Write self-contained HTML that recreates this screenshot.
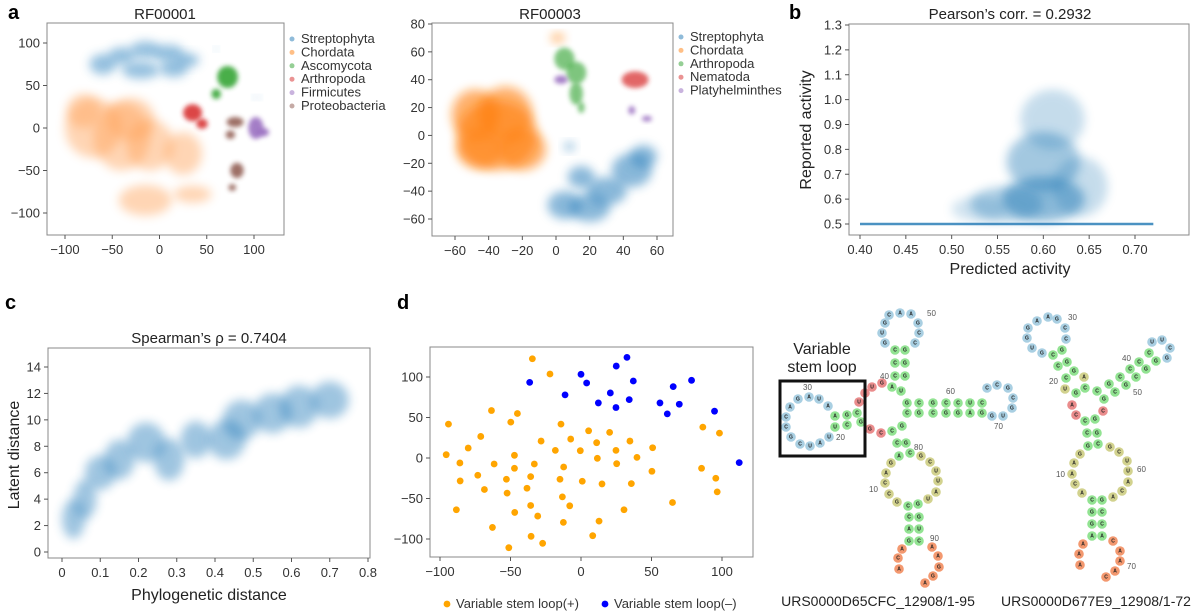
<!DOCTYPE html>
<html><head><meta charset="utf-8">
<style>
html,body{margin:0;padding:0;background:#fff;}
svg{display:block;font-family:"Liberation Sans",sans-serif;}
.tk{font-size:13px;fill:#333;}
.lab{font-size:16px;fill:#222;}
.ttl{font-size:15px;fill:#222;}
.leg{font-size:13px;fill:#333;}
.nt{font-size:5px;font-weight:bold;fill:#222;text-anchor:middle;dominant-baseline:central;}
.num{font-size:8px;fill:#555;}
</style></head>
<body>
<svg id="fig" width="1200" height="611" viewBox="0 0 1200 611">
<defs>
<filter id="bl" x="-60%" y="-60%" width="220%" height="220%"><feGaussianBlur stdDeviation="5"/></filter>
<filter id="bls" x="-60%" y="-60%" width="220%" height="220%"><feGaussianBlur stdDeviation="2.5"/></filter>
</defs>
<text x="8" y="19" font-size="20" font-weight="bold">a</text>
<text x="789" y="19" font-size="20" font-weight="bold">b</text>
<text x="5" y="309" font-size="20" font-weight="bold">c</text>
<text x="397" y="309" font-size="20" font-weight="bold">d</text>
</svg>
<script>
// ---- Panel a1 (RF00001) cluster data: [x, y, spreadX, spreadY]
const a1Categories = ["Streptophyta","Chordata","Ascomycota","Arthropoda","Firmicutes","Proteobacteria"];
const a1Colors = ["#1f77b4","#ff7f0e","#2ca02c","#d62728","#9467bd","#8c564b"];
const a1Strepto = [[-60,75,14,12],[-40,85,14,10],[-15,92,16,10],[10,88,16,10],[30,80,12,8],[-20,68,20,10],[15,70,15,10],[60,93,2,2],[103,36,3,2]];
const a1Chordata = [[-70,0,30,35],[-40,-10,30,40],[-10,-20,25,30],[25,-30,20,25],[-30,10,25,25],[-15,-85,28,18],[35,-78,20,10],[-80,20,18,20]];
const a1Asco = [[72,60,11,13],[60,40,5,6]];
const a1Arthro = [[35,18,10,10],[45,5,6,6]];
const a1Firm = [[102,0,8,13],[110,-5,6,5]];
const a1Proteo = [[80,7,9,6],[75,-8,5,5],[82,-50,7,9],[77,-70,4,4]];
const a1XTicks = [-100,-50,0,50,100];
const a1YTicks = [100,50,0,-50,-100];
// ---- Panel a2 (RF00003)
const a2Categories = ["Streptophyta","Chordata","Arthropoda","Nematoda","Platyhelminthes"];
const a2Colors = ["#1f77b4","#ff7f0e","#2ca02c","#d62728","#9467bd"];
const a2Strepto = [[5,-50,10,10],[20,-52,12,10],[30,-40,12,10],[45,-25,12,12],[52,-15,8,8],[15,-30,8,8],[8,-8,3,3]];
const a2Chordata = [[-48,15,14,18],[-30,15,16,20],[-20,-10,14,15],[-45,-10,14,14],[-35,0,24,25],[1,70,4,3]];
const a2Arthro = [[5,55,6,8],[12,45,6,8],[12,30,4,8],[15,20,2,4]];
const a2Nema = [[47,40,8,6]];
const a2Platy = [[3,40,4,3],[45,18,2,3],[54,12,3,2]];
const a2XTicks = [-60,-40,-20,0,20,40,60];
const a2YTicks = [80,60,40,20,0,-20,-40,-60];
// ---- Panel b density clusters [x, y, spreadX, spreadY, weight]
const bClusters = [[0.60,0.60,0.045,0.09,1],[0.60,0.75,0.04,0.12,0.8],[0.61,0.92,0.035,0.12,0.5],[0.56,0.58,0.04,0.07,0.7],[0.53,0.56,0.03,0.05,0.4],[0.64,0.65,0.03,0.12,0.5]];
const bFloor = [0.40,0.72,0.5];
const bXTicks = [0.40,0.45,0.50,0.55,0.60,0.65,0.70];
const bYTicks = [0.5,0.6,0.7,0.8,0.9,1.0,1.1,1.2,1.3];
// ---- Panel c density clusters [x, y, spreadX, spreadY]
const cClusters = [[0.03,2.5,0.03,1.5],[0.06,4,0.03,1.5],[0.1,6,0.04,1.3],[0.15,7,0.04,1.5],[0.22,8.3,0.05,1.5],[0.28,7,0.04,1.6],[0.35,8.5,0.04,1.4],[0.43,8.5,0.05,1.5],[0.47,10,0.05,1.5],[0.55,10.5,0.05,1.5],[0.62,11,0.05,1.6],[0.70,11.5,0.05,1.4]];
const cXTicks = [0,0.1,0.2,0.3,0.4,0.5,0.6,0.7,0.8];
const cYTicks = [0,2,4,6,8,10,12,14];
// ---- Panel d scatter
const dPlusX = [-34.5,-22.0,-94.0,-63.5,-45.1,-49.8,-71.1,-80.0,-95.6,-85.9,-85.7,-73.2,-88.4,-68.5,-61.6,-47.2,-47.2,-52.9,-52.4,-47.0,-62.8,-51.2,-35.7,-33.1,-38.3,-35.7,-30.7,-35.4,-27.2,-28.3,-18.2,-14.2,-7.3,-12.3,-14.9,-13.2,-8.0,-12.5,-0.5,0.9,5.4,11.1,11.6,14.9,12.8,8.3,20.3,24.8,25.3,34.7,39.7,35.7,30.5,50.8,50.3,64.9,86.4,98.2,85.5,95.6,96.6];
const dPlusY = [122.5,103.7,41.8,58.6,54.9,44.3,26.6,12.3,4.1,-6.1,-28.3,-21.3,-63.9,-38.9,-7.4,3.3,-12.7,-26.2,-43.4,-67.2,-85.7,-110.7,-23.0,-7.4,-37.3,-58.6,-71.7,-96.7,-105.3,20.9,9.4,41.8,23.4,-11.1,-26.2,-48.0,-59.0,-79.5,9.0,-28.7,33.6,18.9,-0.4,-32.0,-77.9,-95.9,31.6,9.4,-7.0,20.9,0.8,-31.6,-63.9,12.7,-16.4,-54.9,38.1,30.7,-12.7,-25.0,-41.8];
const dMinusX = [-36.4,-11.3,0,4.0,12.3,20.8,24.8,25.0,32.6,34.2,37.1,56.0,61.2,65.4,69.7,78.4,94.7,112.2];
const dMinusY = [93.4,77.9,103.3,92.6,68.0,80.3,62.3,113.5,124.2,72.1,95.1,68.0,54.5,88.1,66.4,95.9,57.8,-5.7];
const dXTicks = [-100,-50,0,50,100];
const dYTicks = [100,50,0,-50,-100];

const NS="http://www.w3.org/2000/svg";
const svg=document.getElementById('fig');
function el(tag,attrs,parent){const e=document.createElementNS(NS,tag);for(const k in attrs)e.setAttribute(k,attrs[k]);(parent||svg).appendChild(e);return e;}
function txt(str,attrs,parent){const e=el('text',attrs,parent);e.textContent=str;return e;}
function lin(d0,d1,r0,r1){return v=>r0+(v-d0)/(d1-d0)*(r1-r0);}

function axesBox(name,L,T,R,B){
  const r=el('rect',{x:L,y:T,width:R-L,height:B-T,fill:'none',stroke:'#888','stroke-width':1});
  
  
}
function xTicks(name,ticks,fx,B,fmt){
  ticks.forEach(t=>{const x=fx(t);
    const l=el('line',{x1:x,x2:x,y1:B,y2:B+4,stroke:'#555'});
    
    
    const s=txt(fmt?fmt(t):String(t).replace('-','−'),{x:x,y:B+19,'text-anchor':'middle',class:'tk'});
    
    });
}
function yTicks(name,ticks,fy,L,fmt){
  ticks.forEach(t=>{const y=fy(t);
    const l=el('line',{x1:L-4,x2:L,y1:y,y2:y,stroke:'#555'});
    
    
    const s=txt(fmt?fmt(t):String(t).replace('-','−'),{x:L-7,y:y+4.5,'text-anchor':'end',class:'tk'});
    
    });
}
function blobs(name,list,color,fx,fy,op,g,filt){
  list.forEach(c=>{
    const rx=Math.abs(fx(c[0]+c[2])-fx(c[0])), ry=Math.abs(fy(c[1]+c[3])-fy(c[1]));
    const e=el('ellipse',{cx:fx(c[0]),cy:fy(c[1]),rx:rx,ry:ry,fill:color,opacity:op,filter:filt||'url(#bl)'},g);
    
    
  });
}
function legend(name,cats,cols,x,y0,dy){
  cats.forEach((c,i)=>{
    const d=el('circle',{cx:x,cy:y0+i*dy-4,r:2.5,fill:cols[i],opacity:0.5});
    
    
    const t=txt(c,{x:x+9,y:y0+i*dy,class:'leg'});
    
    
  });
}

// Panel a1
(function(){
  const L=47,T=23,R=284,B=235;
  const fx=lin(-100,100,65,254), fy=lin(-100,100,213,43);
  const g=el('g',{});
  
  
  blobs('cluster-chordata',a1Chordata,'#ffa35a',fx,fy,0.45,g);
  blobs('cluster-streptophyta',a1Strepto,'#2f83c0',fx,fy,0.5,g);
  blobs('cluster-ascomycota',a1Asco,'#2ca02c',fx,fy,0.85,g,'url(#bls)');
  blobs('cluster-arthropoda',a1Arthro,'#d62728',fx,fy,0.85,g,'url(#bls)');
  blobs('cluster-firmicutes',a1Firm,'#9467bd',fx,fy,0.85,g,'url(#bls)');
  blobs('cluster-proteobacteria',a1Proteo,'#8c564b',fx,fy,0.85,g,'url(#bls)');
  axesBox('rf00001',L,T,R,B);
  xTicks('rf00001',a1XTicks,fx,B);yTicks('rf00001',a1YTicks,fy,L);
  const t=txt('RF00001',{x:165,y:19,'text-anchor':'middle',class:'ttl'});
  
  
  legend('rf00001-legend',a1Categories,a1Colors,292,43,13.4);
})();

// Panel a2
(function(){
  const L=432,T=23,R=673,B=236;
  const fx=lin(-60,60,455,657), fy=lin(-60,80,219,24);
  const g=el('g',{});
  
  
  blobs('cluster-chordata',a2Chordata,'#ff7f0e',fx,fy,0.6,g);
  blobs('cluster-streptophyta',a2Strepto,'#2a7fbb',fx,fy,0.55,g);
  blobs('cluster-arthropoda',a2Arthro,'#2ca02c',fx,fy,0.6,g,'url(#bls)');
  blobs('cluster-nematoda',a2Nema,'#d62728',fx,fy,0.7,g,'url(#bls)');
  blobs('cluster-platyhelminthes',a2Platy,'#9467bd',fx,fy,0.85,g,'url(#bls)');
  axesBox('rf00003',L,T,R,B);
  xTicks('rf00003',a2XTicks,fx,B);yTicks('rf00003',a2YTicks,fy,L);
  const t=txt('RF00003',{x:550,y:19,'text-anchor':'middle',class:'ttl'});
  
  
  legend('rf00003-legend',a2Categories,a2Colors,681,41,13.4);
})();

// Panel b
(function(){
  const L=849,T=24,R=1189,B=235;
  const fx=lin(0.40,0.70,860,1135), fy=lin(0.5,1.3,224,25);
  const g=el('g',{});
  
  
  bClusters.forEach(c=>{
    const e=el('ellipse',{cx:fx(c[0]),cy:fy(c[1]),rx:fx(c[0]+c[2])-fx(c[0]),ry:fy(c[1])-fy(c[1]+c[3]),fill:'#1f77b4',opacity:0.5*c[4],filter:'url(#bl)'},g);
    
    
  });
  const fl=el('line',{x1:fx(bFloor[0]),x2:fx(bFloor[1]),y1:fy(bFloor[2]),y2:fy(bFloor[2]),stroke:'#1f77b4','stroke-width':2.5,opacity:0.8},g);
  
  
  axesBox('activity',L,T,R,B);
  xTicks('activity',bXTicks,fx,B,v=>v.toFixed(2));yTicks('activity',bYTicks,fy,L,v=>v.toFixed(1));
  const t=txt('Pearson’s corr. = 0.2932',{x:1010,y:19,'text-anchor':'middle',class:'ttl'});
  
  
  const xl=txt('Predicted activity',{x:1010,y:274,'text-anchor':'middle',class:'lab'});
  
  
  const yl=txt('Reported activity',{x:0,y:0,'text-anchor':'middle',class:'lab',transform:'translate(811,130) rotate(-90)'});
  
  
})();

// Panel c
(function(){
  const L=48,T=348,R=370,B=558;
  const fx=lin(0,0.8,62,368), fy=lin(0,14,552,367);
  const g=el('g',{});
  
  
  cClusters.forEach(c=>{
    const e=el('ellipse',{cx:fx(c[0]),cy:fy(c[1]),rx:fx(c[0]+c[2])-fx(c[0]),ry:fy(c[1])-fy(c[1]+c[3]),fill:'#2a7fbb',opacity:0.45,filter:'url(#bl)'},g);
    
    
  });
  axesBox('latent',L,T,R,B);
  xTicks('latent',cXTicks,fx,B);yTicks('latent',cYTicks,fy,L);
  const t=txt('Spearman’s ρ = 0.7404',{x:209,y:343,'text-anchor':'middle',class:'ttl'});
  
  
  const xl=txt('Phylogenetic distance',{x:209,y:600,'text-anchor':'middle',class:'lab'});
  
  
  const yl=txt('Latent distance',{x:0,y:0,'text-anchor':'middle',class:'lab',transform:'translate(19,455) rotate(-90)'});
  
  
})();

// Panel d scatter
(function(){
  const L=430,T=347,R=753,B=557;
  const fx=lin(-100,100,440,722), fy=lin(-100,100,539,377);
  axesBox('stem-loop',L,T,R,B);
  xTicks('stem-loop',dXTicks,fx,B);yTicks('stem-loop',dYTicks,fy,L);
  dPlusX.forEach((x,i)=>{
    const c=el('circle',{cx:fx(x),cy:fy(dPlusY[i]),r:3.4,fill:'#ffa500'});
    
    
  });
  dMinusX.forEach((x,i)=>{
    const c=el('circle',{cx:fx(x),cy:fy(dMinusY[i]),r:3.4,fill:'#0000ff'});
    
    
  });
  const c1=el('circle',{cx:447,cy:604,r:3.4,fill:'#ffa500'});
  
  
  const t1=txt('Variable stem loop(+)',{x:456,y:608,class:'leg'});
  
  
  const c2=el('circle',{cx:605,cy:604,r:3.4,fill:'#0000ff'});
  
  
  const t2=txt('Variable stem loop(–)',{x:614,y:608,class:'leg'});
  
  
})();

// RNA secondary structures
const NC={b:'#a9cfe2',g:'#92e392',y:'#d2d28e',r:'#ea8c8c',o:'#f3986f'};
const rna1=[
['b',889,315,'C'],['b',900,313,'A'],['b',911,314,'A'],['b',918,323,'G'],['b',919,333,'C'],['b',915,343,'C'],['b',885,323,'G'],['b',882,333,'U'],['b',885,343,'G'],
['g',895,350,'C'],['g',905,350,'G'],['g',895,363,'C'],['g',905,363,'G'],['g',895,376,'C'],['g',905,376,'G'],['g',892,387,'A'],['g',901,391,'U'],
['r',882,383,'G'],['r',872,387,'U'],['r',865,393,'A'],['r',859,402,'U'],
['g',857,413,'C'],['g',861,422,'G'],['g',847,415,'G'],['g',847,425,'C'],['g',835,416,'A'],['g',835,427,'U'],
['b',829,437,'U'],['b',820,443,'A'],['b',810,446,'U'],['b',800,444,'C'],['b',791,437,'G'],['b',786,427,'C'],['b',786,417,'C'],['b',790,407,'A'],['b',798,399,'G'],['b',809,397,'A'],['b',819,399,'U'],['b',828,406,'A'],
['r',870,429,'G'],['r',881,433,'C'],['g',892,431,'C'],['g',902,426,'G'],
['g',907,403,'G'],['g',919,403,'C'],['g',933,403,'G'],['g',946,403,'C'],['g',958,403,'C'],['g',970,403,'U'],['g',982,403,'C'],
['g',907,413,'C'],['g',919,413,'G'],['g',933,413,'C'],['g',946,413,'G'],['g',958,413,'G'],['g',970,413,'A'],['g',982,413,'G'],
['b',987,388,'C'],['b',997,385,'C'],['b',1008,388,'G'],['b',1013,398,'C'],['b',1012,408,'G'],['b',1003,416,'U'],['b',992,416,'G'],
['g',897,443,'C'],['g',906,443,'G'],['g',899,456,'A'],['g',910,453,'C'],
['y',921,456,'G'],['y',930,462,'C'],['y',936,471,'U'],['y',938,481,'U'],['y',936,492,'A'],['y',928,499,'U'],['g',918,504,'G'],['g',908,506,'C'],
['y',897,502,'G'],['y',889,494,'C'],['y',885,483,'C'],['y',886,473,'A'],['y',891,463,'G'],
['g',909,517,'C'],['g',919,517,'G'],['g',909,529,'A'],['g',919,529,'U'],['g',909,541,'G'],['g',919,541,'C'],
['o',902,549,'A'],['o',898,558,'C'],['o',899,569,'A'],['o',932,547,'A'],['o',938,556,'A'],['o',939,567,'G'],['o',933,576,'G'],['o',925,583,'A']];
const rna1Nums=[[927,316,'50'],[803,390,'30'],[880,379,'40'],[836,440,'20'],[946,394,'60'],[994,429,'70'],[914,450,'80'],[869,492,'10'],[930,541,'90']];
const rna2=[
['b',1028,328,'G'],['b',1037,321,'A'],['b',1048,317,'A'],['b',1057,319,'G'],['b',1065,328,'C'],['b',1066,339,'C'],['b',1027,338,'G'],['b',1032,348,'U'],['b',1042,353,'G'],
['g',1053,355,'C'],['g',1062,350,'G'],['g',1058,366,'C'],['g',1067,362,'G'],['g',1066,378,'C'],['g',1074,371,'G'],
['y',1084,377,'A'],['y',1065,389,'U'],
['g',1076,393,'G'],['g',1085,388,'C'],['g',1097,391,'C'],['g',1104,399,'G'],['g',1109,384,'G'],['g',1115,392,'C'],['g',1120,377,'C'],['g',1126,385,'G'],['g',1130,369,'C'],['g',1136,377,'C'],['g',1139,362,'C'],['g',1146,369,'G'],['g',1149,353,'C'],['g',1156,361,'G'],
['b',1152,342,'U'],['b',1162,340,'U'],['b',1170,348,'C'],['b',1167,358,'G'],
['r',1072,405,'A'],['r',1076,415,'C'],['r',1103,411,'C'],
['g',1085,421,'C'],['g',1095,419,'G'],['g',1087,433,'C'],['g',1097,433,'G'],['g',1088,446,'G'],['g',1098,444,'C'],
['y',1110,447,'G'],['y',1119,452,'C'],['y',1127,461,'U'],['y',1128,471,'U'],['y',1128,482,'A'],['y',1122,491,'C'],['y',1113,497,'A'],['y',1080,454,'G'],['y',1074,463,'A'],['y',1072,474,'A'],['y',1075,484,'C'],['y',1082,493,'A'],
['g',1092,500,'C'],['g',1102,500,'G'],['g',1092,512,'G'],['g',1102,512,'C'],['g',1092,524,'G'],['g',1102,524,'C'],['g',1092,536,'A'],['g',1102,536,'A'],
['o',1083,544,'A'],['o',1079,554,'A'],['o',1080,565,'A'],['o',1113,541,'C'],['o',1120,551,'A'],['o',1120,561,'A'],['o',1115,571,'A'],['o',1106,577,'C']];
const rna2Nums=[[1068,320,'30'],[1122,361,'40'],[1049,384,'20'],[1133,395,'50'],[1056,477,'10'],[1137,472,'60'],[1127,569,'70']];
function drawRNA(name,list,nums){
  const g=el('g',{});
  
  
  list.forEach(n=>{
    const c=el('circle',{cx:n[1],cy:n[2],r:4.8,fill:NC[n[0]]},g);
    
    
    const t=txt(n[3],{x:n[1],y:n[2]+0.3,class:'nt'},g);
    
    
  });
  nums.forEach(n=>{
    const t=txt(n[2],{x:n[0],y:n[1],class:'num'},g);
    
    
  });
}
drawRNA('rna-structure-d65cfc',rna1,rna1Nums);
drawRNA('rna-structure-d677e9',rna2,rna2Nums);
(function(){
  const b=el('rect',{x:780,y:381,width:85,height:75,fill:'none',stroke:'#111','stroke-width':3});
  
  
  const t1=txt('Variable',{x:822,y:354,'text-anchor':'middle',class:'lab'});
  
  
  const t2=txt('stem loop',{x:822,y:372,'text-anchor':'middle',class:'lab'});
  
  
  const n1=txt('URS0000D65CFC_12908/1-95',{x:878,y:606,'text-anchor':'middle','font-size':'14',fill:'#222'});
  
  
  const n2=txt('URS0000D677E9_12908/1-72',{x:1096,y:606,'text-anchor':'middle','font-size':'14',fill:'#222'});
  
  
})();
</script>
</body></html>
